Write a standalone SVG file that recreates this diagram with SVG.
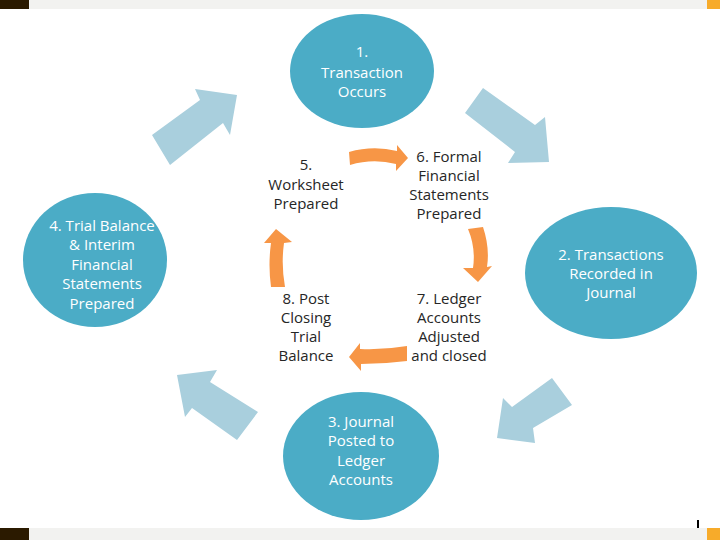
<svg xmlns="http://www.w3.org/2000/svg" width="720" height="540" viewBox="0 0 720 540">
<style>
.c{fill:#4bacc6}
.ct{font-family:"Open Sans","DejaVu Sans",sans-serif;font-size:15px;fill:#ffffff;text-anchor:middle}
.it{font-family:"Open Sans","DejaVu Sans",sans-serif;font-size:15px;fill:#262626;text-anchor:middle}
.ba{fill:#a9cfdd}
.oa{fill:#f79646}
</style>
<rect x="0" y="0" width="720" height="540" fill="#ffffff"/>
<rect x="0" y="0" width="29" height="9" fill="#2b1a00"/>
<rect x="29" y="0" width="678" height="9" fill="#f2f2f0"/>
<rect x="707" y="0" width="13" height="9" fill="#f7ab2a"/>
<rect x="0" y="528" width="29" height="12" fill="#2b1a00"/>
<rect x="29" y="528" width="678" height="12" fill="#f2f2f0"/>
<rect x="707" y="528" width="13" height="12" fill="#f7ab2a"/>
<rect x="697" y="520" width="2" height="8" fill="#000000"/>

<g id="connectors">
<polygon class="ba" points="152,135 200,100 195,89 237,95 230,135 223,123 170,165"/>
<polygon class="ba" points="483,88 535,125 545,117 549,162 508,163 515,152 465,113"/>
<polygon class="ba" points="552,378 572,405 533,428 535,443 497,438 503,398 512,407"/>
<polygon class="ba" points="177,375 217,370 210,382 258,412 237,440 192,408 185,417"/>
<path class="oa" d="M349,152 Q373,145 397,151 L397,145 L408,158 L396,171 L396,164 Q373,158 350,165 Z"/>
<path class="oa" d="M468,229 L483,227 Q490,248 487,267 L492,266 L478,282 L463,268 L473,268 Q476,248 468,229 Z"/>
<path class="oa" d="M407,346 L407,361 Q384,364 361,364 L361,371 L349,357 L360,343 L360,349 Q384,350 407,346 Z"/>
<path class="oa" d="M271,287 Q268,265 271,243 L264,243 L276,229 L292,242 L284,243 Q281,265 285,287 Z"/>
</g>

<g id="n1">
<ellipse class="c" cx="362" cy="71" rx="72" ry="57"/>
<text class="ct" x="362" y="57">1.</text>
<text class="ct" x="362" y="78">Transaction</text>
<text class="ct" x="362" y="97">Occurs</text>
</g>
<g id="n2">
<ellipse class="c" cx="611" cy="273" rx="86" ry="66"/>
<text class="ct" x="611" y="260">2. Transactions</text>
<text class="ct" x="611" y="279">Recorded in</text>
<text class="ct" x="611" y="298">Journal</text>
</g>
<g id="n3">
<ellipse class="c" cx="361" cy="456" rx="78" ry="64"/>
<text class="ct" x="361" y="427">3. Journal</text>
<text class="ct" x="361" y="446">Posted to</text>
<text class="ct" x="361" y="466">Ledger</text>
<text class="ct" x="361" y="485">Accounts</text>
</g>
<g id="n4">
<ellipse class="c" cx="95" cy="260" rx="72" ry="67"/>
<text class="ct" x="102" y="231">4. Trial Balance</text>
<text class="ct" x="102" y="250">&amp; Interim</text>
<text class="ct" x="102" y="270">Financial</text>
<text class="ct" x="102" y="289">Statements</text>
<text class="ct" x="102" y="309">Prepared</text>
</g>
<g id="n5">
<text class="it" x="306" y="170">5.</text>
<text class="it" x="306" y="190">Worksheet</text>
<text class="it" x="306" y="209">Prepared</text>
</g>
<g id="n6">
<text class="it" x="449" y="162">6. Formal</text>
<text class="it" x="449" y="181">Financial</text>
<text class="it" x="449" y="200">Statements</text>
<text class="it" x="449" y="219">Prepared</text>
</g>
<g id="n7">
<text class="it" x="449" y="304">7. Ledger</text>
<text class="it" x="449" y="323">Accounts</text>
<text class="it" x="449" y="342">Adjusted</text>
<text class="it" x="449" y="361">and closed</text>
</g>
<g id="n8">
<text class="it" x="306" y="304">8. Post</text>
<text class="it" x="306" y="323">Closing</text>
<text class="it" x="306" y="342">Trial</text>
<text class="it" x="306" y="361">Balance</text>
</g>
</svg>
